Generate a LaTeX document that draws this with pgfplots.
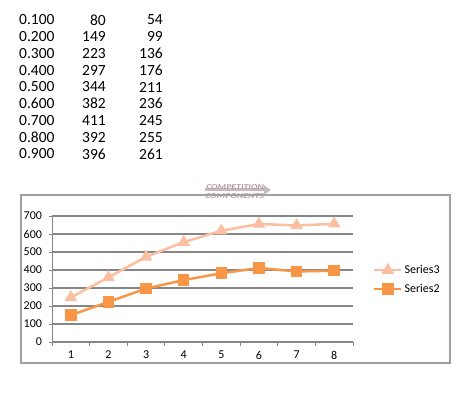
\documentclass[border=0pt]{standalone}
\usepackage{pgfplots}
\pgfplotsset{compat=1.18}
\usetikzlibrary{arrows.meta}
\usepackage{fontspec}
\setmainfont{Carlito}
\definecolor{sthree}{RGB}{250,190,160}
\definecolor{stwo}{RGB}{247,150,70}
\definecolor{gridc}{RGB}{134,134,134}
\definecolor{framec}{RGB}{160,160,160}
\definecolor{logoc}{RGB}{175,155,165}
\begin{document}
\begin{tikzpicture}[x=1pt,y=1pt]
\fill[white] (0,0) rectangle (474,394);
% data table
\foreach \a/\b/\c [count=\i] in {0.100/80/54,0.200/149/99,0.300/223/136,0.400/297/176,0.500/344/211,0.600/382/236,0.700/411/245,0.800/392/255,0.900/396/261}{
  \node[anchor=west,inner sep=0,font=\fontsize{15.5}{17}\selectfont] at (19,{374-(\i-1)*16.75}) {\a};
  \node[anchor=east,inner sep=0,font=\fontsize{15.5}{17}\selectfont] at (106,{374-(\i-1)*16.75}) {\b};
  \node[anchor=east,inner sep=0,font=\fontsize{15.5}{17}\selectfont] at (163,{374-(\i-1)*16.75}) {\c};
}
% chart frame
\draw[framec,line width=1.3pt] (21,199) rectangle (450,31);
% logo
\draw[logoc!70,line width=3pt,-{Triangle[length=7pt,width=9pt]}] (205,204) -- (271,204);
\node[anchor=west,inner sep=0,text=logoc,xscale=1.3,font=\fontsize{7.5}{8}\selectfont\bfseries\itshape] at (206,206.5) {COMPETITION};
\node[anchor=west,inner sep=0,text=logoc,xscale=1.3,font=\fontsize{7.5}{8}\selectfont\bfseries\itshape] at (205,198) {COMPONENTS};
\begin{axis}[
  at={(52pt,52pt)}, anchor=south west,
  scale only axis, width=301pt, height=126pt,
  xmin=0.5, xmax=8.5, ymin=0, ymax=700,
  axis x line=bottom, axis y line=left,
  axis line style={-, gridc, line width=1pt},
  xtick={1,...,8}, minor xtick={0.5,1.5,...,8.5},
  ytick={0,100,...,700},
  ymajorgrids, grid style={gridc, line width=1.1pt},
  tick align=outside, major tick length=3.5pt, minor tick length=3.5pt,
  tick style={gridc, line width=0.8pt},
  major x tick style={draw=none},
  tick label style={font=\fontsize{12}{14}\selectfont},
  yticklabel style={xshift=-3pt},
  xticklabel style={yshift=-2pt},
  /pgf/number format/assume math mode=true,
  clip=false,
  legend style={at={(1.066,0.496)}, anchor=west, draw=none, fill=none, inner sep=0pt,
    row sep=5pt, font=\fontsize{12}{14}\selectfont},
  legend cell align=left,
  legend image code/.code={\draw[mark repeat=2,mark phase=2,#1] plot coordinates {(0pt,0pt)(13.5pt,0pt)(27pt,0pt)};},
]
\addplot[sthree, line width=2.5pt, mark=triangle*, mark size=4.8pt, mark options={solid}]
  coordinates {(1,248)(2,359)(3,473)(4,555)(5,618)(6,656)(7,647)(8,657)};
\addlegendentry{Series3}
\addplot[stwo, line width=2.5pt, mark=square*, mark size=4.5pt, mark options={solid}]
  coordinates {(1,149)(2,223)(3,297)(4,344)(5,382)(6,411)(7,392)(8,396)};
\addlegendentry{Series2}
\end{axis}
\end{tikzpicture}
\end{document}
